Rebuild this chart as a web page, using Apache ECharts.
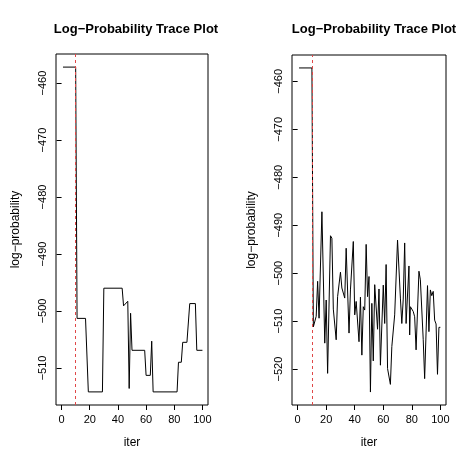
<!DOCTYPE html>
<html><head><meta charset="utf-8">
<script src="https://cdn.jsdelivr.net/npm/echarts@6/dist/echarts.min.js"></script>
<style>html,body{margin:0;padding:0;background:#fff}#c{width:474px;height:474px}</style>
</head><body><div id="c"></div>
<script>
const titles = ['Log\u2212Probability Trace Plot','Log\u2212Probability Trace Plot'];
const xTicks = [0,20,40,60,80,100];
const yTicksLeft = [-510,-500,-490,-480,-470,-460];
const yTicksRight = [-520,-510,-500,-490,-480,-470,-460];
const burnIn = 10;
const leftIter = [1,10,11,17,19,29,30,43,44,47,48,49,50,59,60,63,64,65,82,83,85,86,89,91,95,96,100];
const leftVals = [-457.2,-457.2,-501.3,-501.3,-514.2,-514.2,-496,-496,-499.1,-498.3,-513.6,-500.4,-506.9,-506.9,-511.3,-511.3,-505.3,-514.2,-514.2,-509,-509,-505.5,-505.5,-498.7,-498.7,-506.9,-506.9];
const rightIter = [1,10,11,13,14,15,17,19,20,21,23,24,25,26,27,28,30,31,32,33,34,36,37,39,40,41,43,44,45,46,47,48,49,50,51,52,53,54,55,56,57,58,60,61,62,63,64,65,66,68,69,70,72,73,74,75,76,78,78.5,79,81,82,83,85,86,88,89,91,92,93,94,95,96,97,98,99,100];
const rightVals = [-457.2,-457.2,-511.2,-509,-501.7,-509.4,-487.2,-514.6,-505.6,-520.9,-492.2,-492.7,-507.5,-507.3,-513.9,-504.9,-499.8,-503.1,-503.4,-505.2,-494.8,-512.5,-503.5,-493.4,-508.7,-505.9,-514.3,-505,-517.1,-507,-507.7,-494,-504.9,-500.7,-524.8,-506.3,-518.3,-502.4,-502.8,-511.7,-503.3,-519.2,-502.5,-510.5,-498.2,-519.9,-520.2,-523.2,-515.3,-508.7,-508.9,-493.1,-505.2,-510.5,-505.4,-493.7,-510.5,-498.5,-512.9,-507,-508,-509.1,-516,-499.6,-501.4,-513.9,-522,-502.6,-512.2,-503.5,-504.7,-503.8,-509.8,-510.6,-521.1,-511.3,-511.3];

const font = 'Liberation Sans, Arial, sans-serif';
function pairs(xs, ys){ return xs.map((x,i)=>[x, ys[i]]); }
function xAxis(i){ return {type:'value', gridIndex:i, min:-3.96, max:103.96,
  name:'iter', nameLocation:'middle', nameGap:32, nameTextStyle:{fontFamily:font,fontSize:12,color:'#000'},
  axisLine:{show:false}, splitLine:{show:false},
  axisTick:{show:true, length:5, lineStyle:{color:'#000'}, customValues:xTicks},
  axisLabel:{color:'#000', fontFamily:font, fontSize:11, margin:9, customValues:xTicks}}; }
function yAxis(i, min, max, ticks, showName){ return {type:'value', gridIndex:i, min:min, max:max,
  name: showName ? 'log\u2212probability' : '', nameLocation:'middle', nameGap:34, nameTextStyle:{fontFamily:font,fontSize:12,color:'#000'},
  axisLine:{show:false}, splitLine:{show:false},
  axisTick:{show:true, length:5, lineStyle:{color:'#000'}, customValues:ticks},
  axisLabel:{color:'#000', fontFamily:font, fontSize:11, rotate:90, margin:8, customValues:ticks, formatter:v=>String(v).replace('-','\u2212')}}; }
function series(i, data){ return {type:'line', xAxisIndex:i, yAxisIndex:i, data:data, showSymbol:false,
  lineStyle:{color:'#000', width:1}, animation:false,
  markLine:{silent:true, symbol:'none', label:{show:false}, lineStyle:{color:'#e04848', type:[3,3], width:1},
    data:[{xAxis:burnIn}]}}; }
const chart = echarts.init(document.getElementById('c'), null, {renderer:'canvas'});
chart.setOption({
  animation:false,
  title:[{text:titles[0], left:131, top:18, textAlign:'center', textStyle:{fontFamily:font,fontSize:13,fontWeight:'bold',color:'#000'}},
         {text:titles[1], left:369, top:18, textAlign:'center', textStyle:{fontFamily:font,fontSize:13,fontWeight:'bold',color:'#000'}}],
  grid:[{left:56, top:54, width:152, height:351, show:true, borderColor:'#000', borderWidth:1, backgroundColor:'transparent'},
        {left:292, top:55, width:154, height:350, show:true, borderColor:'#000', borderWidth:1, backgroundColor:'transparent'}],
  xAxis:[xAxis(0), xAxis(1)],
  yAxis:[yAxis(0,-516.5,-454.9,yTicksLeft,true), yAxis(1,-527.5,-454.5,yTicksRight,true)],
  series:[series(0,pairs(leftIter,leftVals)), series(1,pairs(rightIter,rightVals))]
});
</script></body></html>
